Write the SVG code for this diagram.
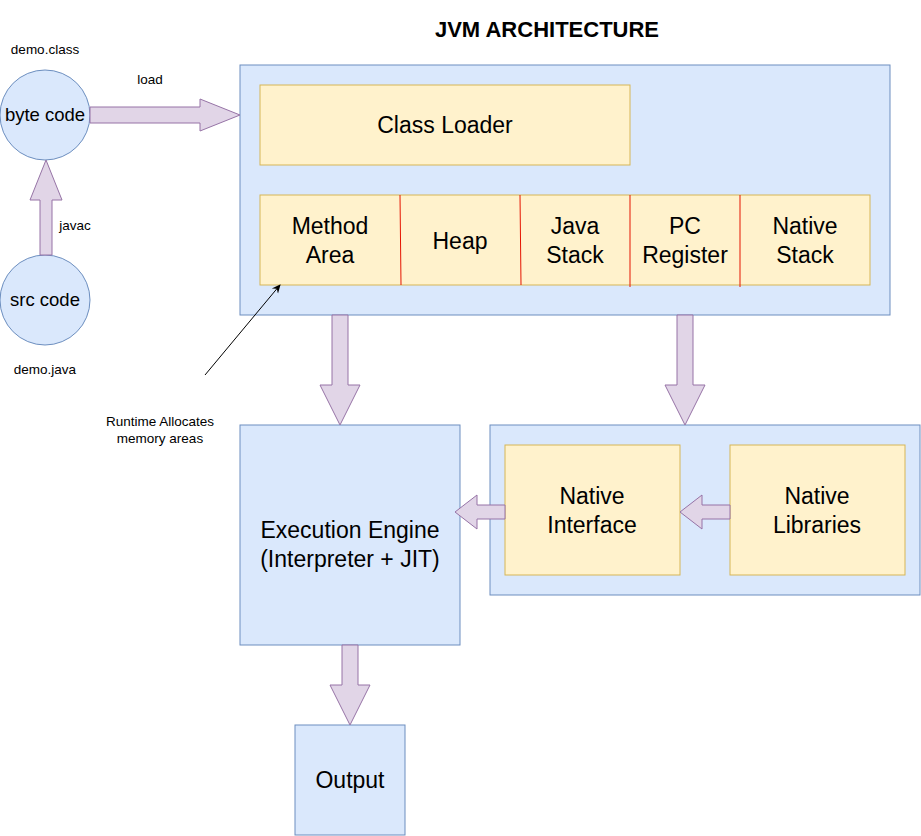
<svg xmlns="http://www.w3.org/2000/svg" width="921" height="836" viewBox="0 0 921 836">
<style>
.blue{fill:#dae8fc;stroke:#6c8ebf;stroke-width:1}
.yel{fill:#fff2cc;stroke:#d6b656;stroke-width:1}
.arr{fill:#e1d5e7;stroke:#9673a6;stroke-width:1}
.t{font-family:"Liberation Sans",Arial,sans-serif;font-size:23px;fill:#000;text-anchor:middle}
.s{font-family:"Liberation Sans",Arial,sans-serif;font-size:13.5px;fill:#000;text-anchor:middle}
.div{stroke:#e51400;stroke-width:1}
</style>
<defs><marker id="ah" markerWidth="10" markerHeight="10" refX="8" refY="5" orient="auto" markerUnits="userSpaceOnUse"><path d="M0,1 L9,5 L0,9 L3,5 Z" fill="#000"/></marker></defs>
<rect width="921" height="836" fill="#fff"/>
<text x="547" y="37" font-family="Liberation Sans,Arial,sans-serif" font-size="22" font-weight="bold" text-anchor="middle">JVM ARCHITECTURE</text>
<g id="bytecode"><circle class="blue" cx="45" cy="115" r="45"/><text class="t" x="45" y="121" style="font-size:18.5px">byte code</text></g>
<g id="srccode"><circle class="blue" cx="45" cy="300" r="45"/><text class="t" x="45" y="306" style="font-size:18.5px">src code</text></g>
<g id="labels">
<text class="s" x="45" y="54">demo.class</text>
<text class="s" x="45" y="374">demo.java</text>
<text class="s" x="150" y="84">load</text>
<text class="s" x="75" y="230">javac</text>
<text class="s" x="160" y="426">Runtime Allocates</text>
<text class="s" x="160" y="443">memory areas</text>
</g>
<g id="jvm"><rect class="blue" x="240" y="65" width="650" height="250"/></g>
<g id="classloader"><rect class="yel" x="260" y="85" width="370" height="80"/><text class="t" x="445" y="133">Class Loader</text></g>
<g id="memory">
<rect class="yel" x="260" y="195" width="610" height="90"/>
<line class="div" x1="400" y1="195" x2="401" y2="285"/>
<line class="div" x1="520" y1="195" x2="521" y2="285"/>
<line class="div" x1="630" y1="195" x2="630" y2="287"/>
<line class="div" x1="740" y1="195" x2="740" y2="287"/>
<text class="t" x="330" y="234">Method</text><text class="t" x="330" y="263">Area</text>
<text class="t" x="460" y="249">Heap</text>
<text class="t" x="575" y="234">Java</text><text class="t" x="575" y="263">Stack</text>
<text class="t" x="685" y="234">PC</text><text class="t" x="685" y="263">Register</text>
<text class="t" x="805" y="234">Native</text><text class="t" x="805" y="263">Stack</text>
</g>
<g id="execution"><rect class="blue" x="240" y="425" width="220" height="220"/><text class="t" x="350" y="538">Execution Engine</text><text class="t" x="350" y="567">(Interpreter + JIT)</text></g>
<g id="native"><rect class="blue" x="490" y="425" width="430" height="170"/></g>
<g id="nativeinterface"><rect class="yel" x="505" y="445" width="175" height="130"/><text class="t" x="592" y="504">Native</text><text class="t" x="592" y="533">Interface</text></g>
<g id="nativelibraries"><rect class="yel" x="730" y="445" width="175" height="130"/><text class="t" x="817" y="504">Native</text><text class="t" x="817" y="533">Libraries</text></g>
<g id="output"><rect class="blue" x="295" y="725" width="110" height="110"/><text class="t" x="350" y="788">Output</text></g>
<g id="connectors">
<path class="arr" d="M90,107 H200 V99 L240,115 L200,131 V123 H90 Z"/>
<path class="arr" d="M40,255 V200 H30 L46,160 L62,200 H52 V255 Z"/>
<path class="arr" d="M332,315 V385 H320 L340,425 L360,385 H348 V315 Z"/>
<path class="arr" d="M677,315 V385 H665 L685,425 L705,385 H693 V315 Z"/>
<path class="arr" d="M342,645 V685 H330 L350,725 L370,685 H358 V645 Z"/>
<path class="arr" d="M730,505 H702 V495 L680,512 L702,529 V519 H730 Z"/>
<path class="arr" d="M505,505 H477 V495 L455,512 L477,529 V519 H505 Z"/>
<line x1="205" y1="375" x2="280" y2="285" stroke="#000" stroke-width="1" marker-end="url(#ah)"/>
</g>
</svg>
